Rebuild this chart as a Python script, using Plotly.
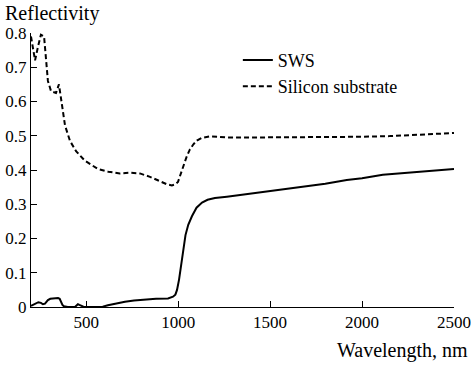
import plotly.graph_objects as go

# Silicon substrate (dashed)
sub_wl = [200, 211, 222, 238, 254, 271, 281, 292, 309, 336, 352, 368, 385, 412, 445, 493,
          564, 620, 683, 740, 792, 847, 901, 940, 966, 985, 999, 1012, 1026, 1045, 1064,
          1083, 1102, 1130, 1173, 1220, 1265, 1400, 1600, 1800, 2000, 2150, 2300, 2400, 2500]
sub_r = [0.79, 0.76, 0.72, 0.76, 0.795, 0.79, 0.72, 0.66, 0.63, 0.625, 0.65, 0.59, 0.53, 0.485,
         0.455, 0.427, 0.403, 0.395, 0.39, 0.392, 0.39, 0.38, 0.367, 0.358, 0.355, 0.358, 0.365,
         0.385, 0.41, 0.437, 0.46, 0.475, 0.486, 0.494, 0.498, 0.497, 0.495, 0.495, 0.495, 0.496,
         0.497, 0.499, 0.502, 0.504, 0.508]

# SWS (solid)
sws_wl = [200, 215, 227, 240, 254, 265, 276, 292, 305, 320, 347, 356, 363, 371, 379, 400, 439,
          447, 455, 463, 472, 485, 499, 530, 564, 590, 618, 660, 711, 760, 820, 880, 945, 972,
          985, 994, 1005, 1015, 1026, 1040, 1055, 1075, 1100, 1130, 1160, 1200, 1265, 1350, 1445,
          1553, 1700, 1800, 1917, 2000, 2113, 2250, 2400, 2466, 2500]
sws_r = [0.003, 0.008, 0.012, 0.014, 0.012, 0.008, 0.01, 0.02, 0.024, 0.025, 0.026, 0.024, 0.015,
         0.006, 0.002, 0.0, 0.0, 0.004, 0.008, 0.006, 0.003, 0.001, 0.0, 0.0, 0.0, 0.001, 0.005,
         0.01, 0.015, 0.019, 0.022, 0.024, 0.025, 0.03, 0.036, 0.05, 0.08, 0.12, 0.17, 0.21,
         0.24, 0.265, 0.29, 0.305, 0.313, 0.318, 0.322, 0.328, 0.336, 0.342, 0.352, 0.36, 0.371,
         0.376, 0.386, 0.392, 0.399, 0.403, 0.403]

x_ticks = [500, 1000, 1500, 2000, 2500]
y_ticks = [0, 0.1, 0.2, 0.3, 0.4, 0.5, 0.6, 0.7, 0.8]
y_labels = ["0", "0.1", "0.2", "0.3", "0.4", "0.5", "0.6", "0.7", "0.8"]

serif = "serif"

fig = go.Figure()
fig.add_trace(go.Scatter(x=sws_wl, y=sws_r, mode="lines", name="SWS",
                         line=dict(color="black", width=2)))
fig.add_trace(go.Scatter(x=sub_wl, y=sub_r, mode="lines", name="Silicon substrate",
                         line=dict(color="black", width=2, dash="5px,3px")))

fig.update_layout(
    template="none",
    width=474, height=391,
    margin=dict(l=31, r=20, t=33, b=84),
    paper_bgcolor="white", plot_bgcolor="white",
    font=dict(family=serif, color="black", size=16),
    showlegend=True,
    legend=dict(x=0.489, y=0.968, xanchor="left", yanchor="top",
                font=dict(family=serif, size=18, color="black"),
                bgcolor="rgba(0,0,0,0)", borderwidth=0),
    xaxis=dict(range=[200, 2500], tickvals=x_ticks, ticktext=[str(v) for v in x_ticks],
               ticks="inside", ticklen=6, tickcolor="black", showline=True, automargin=False,
               linecolor="black", linewidth=1, showgrid=False, zeroline=False,
               tickfont=dict(family=serif, size=17, color="black")),
    yaxis=dict(range=[0, 0.8], tickvals=y_ticks, ticktext=y_labels,
               ticks="inside", ticklen=6, tickcolor="black", showline=True, automargin=False,
               linecolor="black", linewidth=1, showgrid=False, zeroline=False,
               tickfont=dict(family=serif, size=17, color="black")),
    annotations=[
        dict(text="Reflectivity", x=0, y=1, xref="paper", yref="paper", xshift=-28, yshift=20,
             xanchor="left", yanchor="middle", showarrow=False,
             font=dict(family=serif, size=20, color="black")),
        dict(text="Wavelength, nm", x=1, y=0, xref="paper", yref="paper", xshift=16, yshift=-43,
             xanchor="right", yanchor="middle", showarrow=False,
             font=dict(family=serif, size=20, color="black")),
    ],
)

fig.write_html("out.html", config={"displayModeBar": False},
               post_script="document.body.style.margin='0px';")
